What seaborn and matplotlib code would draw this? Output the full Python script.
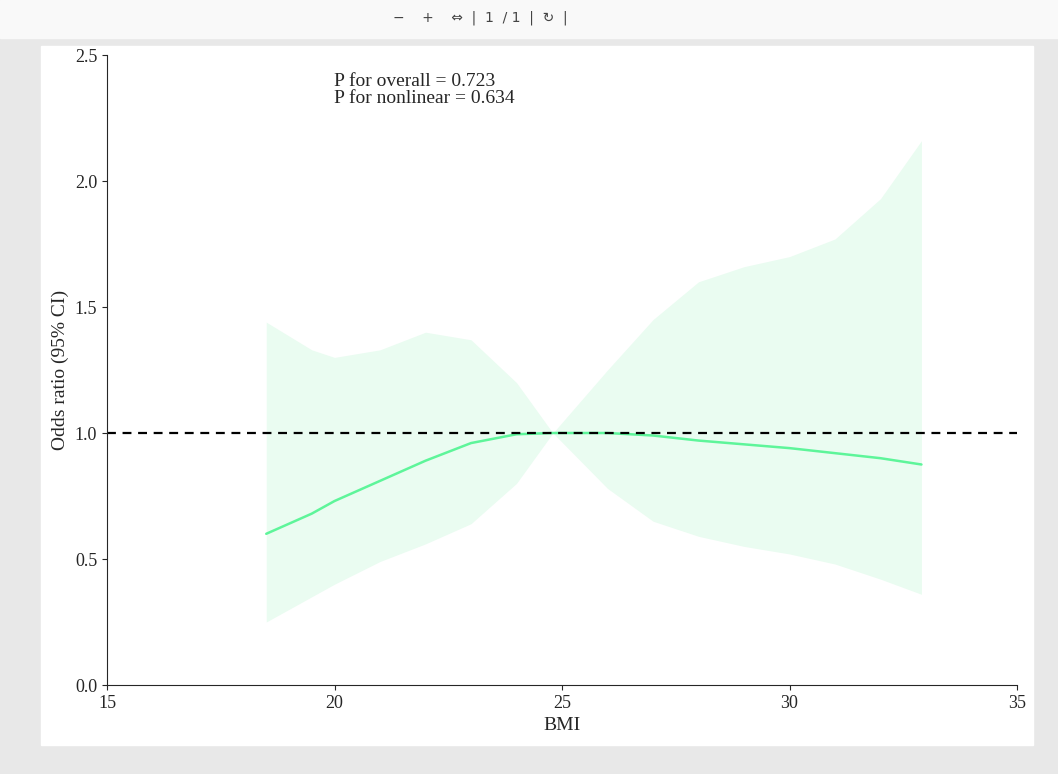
import matplotlib
matplotlib.use("Agg")
import matplotlib.pyplot as plt
import seaborn as sns
import pandas as pd

bmi = [18.5, 19.5, 20, 21, 22, 23, 24, 24.8, 26, 27, 28, 29, 30, 31, 32, 32.9]
odds = [0.60, 0.68, 0.73, 0.81, 0.89, 0.96, 0.995, 1.0, 1.0, 0.99, 0.97, 0.955, 0.94, 0.92, 0.90, 0.875]
upper = [1.44, 1.33, 1.30, 1.33, 1.40, 1.37, 1.20, 1.0, 1.25, 1.45, 1.60, 1.66, 1.70, 1.77, 1.93, 2.16]
lower = [0.25, 0.35, 0.40, 0.49, 0.56, 0.64, 0.80, 1.0, 0.78, 0.65, 0.59, 0.55, 0.52, 0.48, 0.42, 0.36]

df = pd.DataFrame({"BMI": bmi, "OR": odds, "lo": lower, "hi": upper})

sns.set_style("ticks")
plt.rcParams["font.family"] = ["Liberation Serif", "DejaVu Serif"]

W, H = 1058, 774
fig = plt.figure(figsize=(W / 100, H / 100), dpi=100, facecolor="#e8e8e8")
# viewer toolbar and page, kept behind the axes
fig.add_artist(plt.Rectangle((0, 1 - 38 / H), 1, 38 / H, color="#f9f9f9",
                             transform=fig.transFigure, zorder=-10))
fig.add_artist(plt.Rectangle((41 / W, 1 - 745 / H), 992 / W, 699 / H, color="white",
                             transform=fig.transFigure, zorder=-10))
fig.text(480 / W, 1 - 18 / H, "−    +    ⇔  |  1  / 1  |  ↻  |", ha="center", va="center",
         fontsize=10, color="#444444", family="DejaVu Sans")

ax = fig.add_axes([107 / W, 1 - 685 / H, 910 / W, 630 / H])
ax.set_zorder(5)
ax.set_facecolor("white")
ax.fill_between(df["BMI"], df["lo"], df["hi"], color="#eafcf1", lw=0)
sns.lineplot(data=df, x="BMI", y="OR", ax=ax, color="#5ef59a", lw=1.8)
ax.axhline(1.0, color="black", ls="--", lw=1.6, dashes=(4, 3))
ax.set_xlim(15, 35)
ax.set_ylim(0, 2.5)
ax.set_xticks([15, 20, 25, 30, 35])
ax.set_yticks([0, 0.5, 1.0, 1.5, 2.0, 2.5])
ax.set_yticklabels(["0.0", "0.5", "1.0", "1.5", "2.0", "2.5"])
ax.tick_params(labelsize=13)
ax.set_xlabel("BMI", fontsize=14)
ax.set_ylabel("Odds ratio (95% CI)", fontsize=14)
sns.despine(ax=ax)
ax.text(20, 2.43, "P for overall = 0.723\nP for nonlinear = 0.634", fontsize=14,
        va="top", ha="left", linespacing=1.05)

fig.savefig("out.png", dpi=100, facecolor=fig.get_facecolor())
